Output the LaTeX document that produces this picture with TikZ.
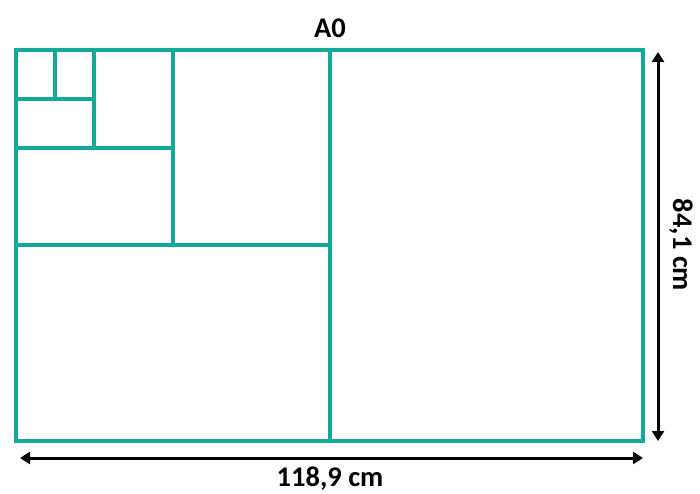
\documentclass[tikz,border=0pt]{standalone}
\usepackage{fontspec}
\setmainfont{Carlito}
\usetikzlibrary{arrows.meta}
\definecolor{teal}{HTML}{12A89A}
\tikzset{
  sheet/.style={draw=teal, line width=3.5pt},
  dimarrow/.style={draw=black, line width=3pt, {Triangle[length=10pt,width=12pt]}-{Triangle[length=10pt,width=12pt]}},
  lbl/.style={font=\fontsize{28.5}{32}\selectfont\bfseries, inner sep=0pt}
}
\begin{document}
\begin{tikzpicture}[x=1pt,y=-1pt]
\useasboundingbox (0,0) rectangle (700,494);
\draw[sheet] (16,50) rectangle (643,441);
\draw[sheet] (330,50) -- (330,441);
\draw[sheet] (16,245) -- (330,245);
\draw[sheet] (173,50) -- (173,245);
\draw[sheet] (16,148) -- (173,148);
\draw[sheet] (94,50) -- (94,148);
\draw[sheet] (16,99) -- (94,99);
\draw[sheet] (55,50) -- (55,99);
\coordinate (vt) at (658,52);
\coordinate (vb) at (658,441);
\coordinate (hl) at (20,458);
\coordinate (hr) at (643,458);
\draw[dimarrow] (vt) -- (vb);
\draw[dimarrow] (hl) -- (hr);
\node[lbl] (top) at (330,28) {A0};
\node[lbl] (bottom) at (330,479) {118,9 cm};
\node[lbl, rotate=-90] (side) at (681,245) {84,1 cm};
\end{tikzpicture}
\end{document}
